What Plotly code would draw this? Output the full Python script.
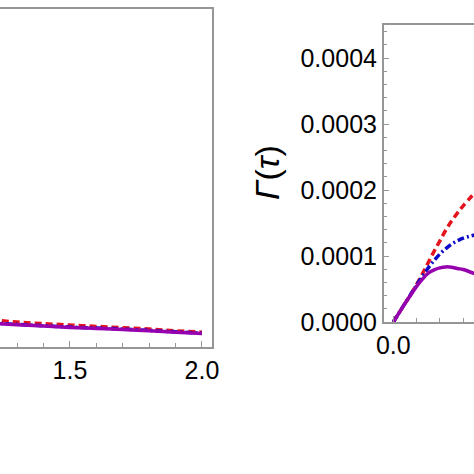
import plotly.graph_objects as go

left_t = [1.2, 1.3, 1.4, 1.5, 1.6, 1.7, 1.8, 1.9, 2.0]
left_red = [0.080, 0.074, 0.069, 0.065, 0.061, 0.057, 0.053, 0.048, 0.044]
left_blue = [0.071, 0.067, 0.063, 0.059, 0.056, 0.053, 0.049, 0.045, 0.041]
left_purple = [0.070, 0.066, 0.062, 0.058, 0.055, 0.052, 0.048, 0.044, 0.040]

right_t = [0.0, 0.025, 0.05, 0.075, 0.1, 0.125, 0.15, 0.175, 0.2, 0.225, 0.25, 0.275, 0.3, 0.35]
right_red = [0.0, 0.000014, 0.000028, 0.000042, 0.000057, 0.000073, 0.000090, 0.000107, 0.000123,
             0.000139, 0.000153, 0.000165, 0.000176, 0.000196]
right_blue = [0.0, 0.000014, 0.000028, 0.000042, 0.000056, 0.000069, 0.000082, 0.000093, 0.000103,
              0.000111, 0.000118, 0.000123, 0.000127, 0.000132]
right_purple = [0.0, 0.000014, 0.000028, 0.000041, 0.000054, 0.000065, 0.000074, 0.000079, 0.000082,
                0.0000835, 0.000083, 0.000081, 0.0000795, 0.000073]

RED = "rgb(228,20,30)"
BLUE = "rgb(10,10,200)"
PURPLE = "rgb(150,0,175)"
AX = "rgb(150,150,150)"
FONT = "Liberation Sans"
W = 3.5

fig = go.Figure()
for xs, ys, col, dash, xa, ya in [
    (left_t, left_red, RED, "7px,4px", "x", "y"),
    (left_t, left_blue, BLUE, "7px,3px,2px,3px", "x", "y"),
    (left_t, left_purple, PURPLE, "solid", "x", "y"),
    (right_t, right_red, RED, "7px,4px", "x2", "y2"),
    (right_t, right_blue, BLUE, "7px,3px,2px,3px", "x2", "y2"),
    (right_t, right_purple, PURPLE, "solid", "x2", "y2"),
]:
    fig.add_trace(go.Scatter(x=xs, y=ys, mode="lines", xaxis=xa, yaxis=ya,
                             line=dict(color=col, width=W, dash=dash, shape="spline"),
                             showlegend=False, hoverinfo="skip"))

common_tick = dict(tickfont=dict(family=FONT, size=25, color="black"),
                   linecolor=AX, linewidth=1.5, tickcolor=AX, showgrid=False,
                   zeroline=False)

fig.update_layout(
    width=474, height=474,
    margin=dict(l=0, r=0, t=0, b=0, pad=0, autoexpand=False),
    paper_bgcolor="white", plot_bgcolor="white",
    xaxis=dict(domain=[0, 212/474], range=[1.235, 2.038], dtick=0.5, tick0=0,
               tickformat=".1f", showline=True, mirror=True, ticks="inside", ticklen=6,
               minor=dict(dtick=0.1, ticks="inside", ticklen=4, tickcolor=AX),
               anchor="y", automargin=False, **common_tick),
    yaxis=dict(domain=[1-347/474, 1-9/474], range=[0, 1.0], side="right",
               showline=True, showticklabels=False, anchor="x", ticks="", automargin=False,
               **common_tick),
    xaxis2=dict(domain=[383.7/474, 1], range=[-0.0412, 0.3464], dtick=0.5, tick0=0,
                tickformat=".1f", showline=True, mirror=True, ticks="inside", ticklen=6,
                minor=dict(dtick=0.1, ticks="inside", ticklen=4, tickcolor=AX),
                anchor="y2", automargin=False, **common_tick),
    yaxis2=dict(domain=[1-322/474, 1-25/474], range=[0, 0.00045], dtick=0.0001, tick0=0,
                tickformat=".4f", showline=True, mirror=False, ticks="inside", ticklen=6,
                minor=dict(dtick=0.00002, ticks="inside", ticklen=4, tickcolor=AX),
                anchor="x2", automargin=False, **common_tick),
    annotations=[dict(text="<i>Γ</i>(<i>τ</i>)", textangle=-90, x=267/474, y=1-173/474,
                      xref="paper", yref="paper", showarrow=False,
                      font=dict(family=FONT, size=34, color="black"))],
)

fig.write_html("out.html")
